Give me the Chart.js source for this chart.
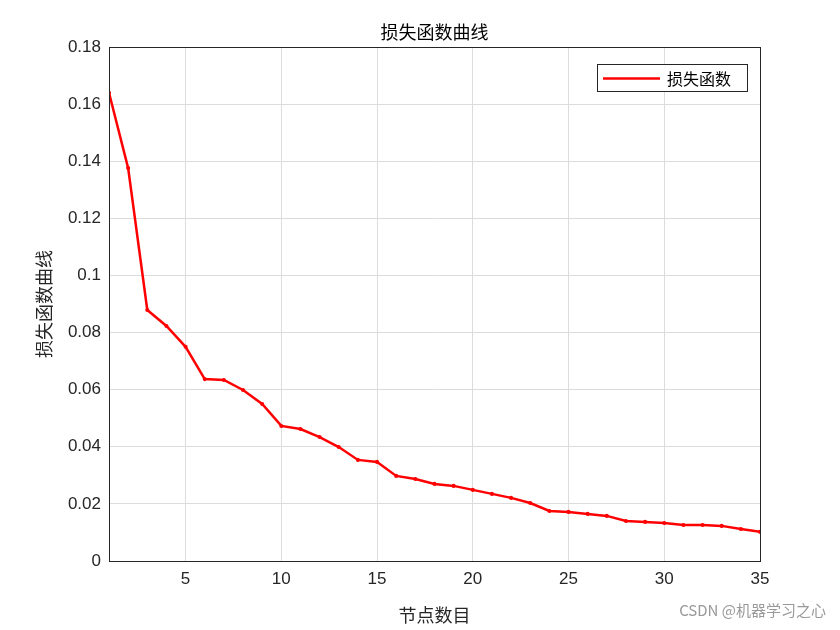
<!DOCTYPE html>
<html><head><meta charset="utf-8">
<script src="https://cdn.jsdelivr.net/npm/chart.js@4"></script>
<style>html,body{margin:0;padding:0;background:#fff}</style>
</head><body>
<div style="width:840px;height:630px"><canvas id="c" width="840" height="630"></canvas></div>
<script>
const xValues=[1,2,3,4,5,6,7,8,9,10,11,12,13,14,15,16,17,18,19,20,21,22,23,24,25,26,27,28,29,30,31,32,33,34,35];
const lossValues=[0.164,0.1376,0.0879,0.0823,0.075,0.0637,0.0634,0.0599,0.055,0.0473,0.0462,0.0434,0.0399,0.0354,0.0347,0.0298,0.0287,0.027,0.0263,0.0249,0.0235,0.0221,0.0203,0.0175,0.0172,0.0165,0.0158,0.014,0.0137,0.0133,0.0126,0.0126,0.0123,0.0112,0.0102];
const xTicks=[5,10,15,20,25,30,35];
const yTicks=[0,0.02,0.04,0.06,0.08,0.1,0.12,0.14,0.16,0.18];
const CJK='"Noto Sans CJK SC", serif';
const deco={id:'deco',afterDraw(ch){
  const c=ch.ctx,a=ch.chartArea;
  c.save();
  c.strokeStyle='#262626';c.lineWidth=1;
  c.strokeRect(a.left+0.5,a.top+0.5,a.right-a.left,a.bottom-a.top);
  c.fillStyle='#000';c.font='18px '+CJK;c.textAlign='center';c.textBaseline='middle';
  c.fillText('损失函数曲线',(a.left+a.right)/2,32);
  c.save();c.translate(44,(a.top+a.bottom)/2);c.rotate(-Math.PI/2);c.fillStyle='#262626';
  c.fillText('损失函数曲线',0,0);c.restore();
  const lx=597,ly=64,lw=150,lh=27;
  c.fillStyle='#fff';c.fillRect(lx,ly,lw,lh);
  c.strokeStyle='#262626';c.strokeRect(lx+0.5,ly+0.5,lw,lh);
  c.strokeStyle='#ff0000';c.lineWidth=2.5;c.beginPath();c.moveTo(603,ly+lh/2+1);c.lineTo(660,ly+lh/2+1);c.stroke();
  c.fillStyle='#000';c.font='16px '+CJK;c.textAlign='left';c.fillText('损失函数',667,ly+lh/2+1);
  c.fillStyle='#999';c.font='15px '+CJK;c.textAlign='right';c.fillText('CSDN @机器学习之心',826,610);
  c.restore();
}};
new Chart(document.getElementById('c'),{
  type:'line',
  data:{datasets:[{data:xValues.map((x,i)=>({x:x,y:lossValues[i]})),borderColor:'#ff0000',borderWidth:2.5,pointRadius:0.8,pointBackgroundColor:'#ff0000',pointBorderColor:'#ff0000',tension:0}]},
  options:{responsive:false,animation:false,
    layout:{padding:{top:47,right:80,left:0,bottom:0}},
    plugins:{legend:{display:false},tooltip:{enabled:false}},
    scales:{
      x:{type:'linear',min:1,max:35,
        afterBuildTicks(s){s.ticks=xTicks.map(v=>({value:v}));},
        afterFit(s){s.height=69;},
        grid:{color:'#dcdcdc',drawTicks:false},border:{display:false},
        ticks:{padding:8,color:'#262626',font:{family:'Liberation Sans',size:17}},
        title:{display:true,text:'节点数目',color:'#262626',font:{family:CJK,size:18},padding:{top:4}}},
      y:{min:0,max:0.18,
        afterBuildTicks(s){s.ticks=yTicks.map(v=>({value:v}));},
        afterFit(s){s.width=109;},
        grid:{color:'#dcdcdc',drawTicks:false},border:{display:false},
        ticks:{padding:8,color:'#262626',font:{family:'Liberation Sans',size:17},callback:v=>String(Math.round(v*100)/100)}}
    }},
  plugins:[deco]
});
</script></body></html>
